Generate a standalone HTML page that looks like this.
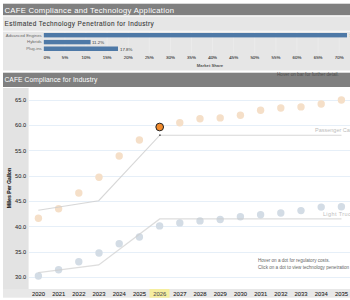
<!DOCTYPE html>
<html><head><meta charset="utf-8"><style>
html,body{margin:0;padding:0;width:350px;height:300px;overflow:hidden;background:#fff;}
svg{position:absolute;left:0;top:0;}
text{font-family:"Liberation Sans",sans-serif;}
</style></head><body>
<svg width="350" height="300" viewBox="0 0 350 300">
<rect x="3" y="3.7" width="347" height="11.5" fill="#808080"/>
<text x="4.5" y="12.9" font-size="7.7" letter-spacing="0.27" fill="#fff">CAFE Compliance and Technology Application</text>
<rect x="3" y="16.5" width="347" height="54" fill="#e6e6e6"/>
<rect x="3" y="30.7" width="347" height="1.1" fill="#fbfbfb"/>
<text x="4.6" y="25.9" font-size="6.4" letter-spacing="0.42" stroke="#3a3a3a" stroke-width="0.1" fill="#3a3a3a">Estimated Technology Penetration for  Industry</text>
<line x1="43.80" y1="32" x2="43.80" y2="53" stroke="#ececec" stroke-width="0.8"/><text x="47.00" y="58.5" font-size="4.4" fill="#333" stroke="#333" stroke-width="0.08" text-anchor="middle">0%</text><line x1="64.90" y1="32" x2="64.90" y2="53" stroke="#ececec" stroke-width="0.8"/><text x="64.90" y="58.5" font-size="4.4" fill="#333" stroke="#333" stroke-width="0.08" text-anchor="middle">5%</text><line x1="86.00" y1="32" x2="86.00" y2="53" stroke="#ececec" stroke-width="0.8"/><text x="86.00" y="58.5" font-size="4.4" fill="#333" stroke="#333" stroke-width="0.08" text-anchor="middle">10%</text><line x1="107.10" y1="32" x2="107.10" y2="53" stroke="#ececec" stroke-width="0.8"/><text x="107.10" y="58.5" font-size="4.4" fill="#333" stroke="#333" stroke-width="0.08" text-anchor="middle">15%</text><line x1="128.20" y1="32" x2="128.20" y2="53" stroke="#ececec" stroke-width="0.8"/><text x="128.20" y="58.5" font-size="4.4" fill="#333" stroke="#333" stroke-width="0.08" text-anchor="middle">20%</text><line x1="149.30" y1="32" x2="149.30" y2="53" stroke="#ececec" stroke-width="0.8"/><text x="149.30" y="58.5" font-size="4.4" fill="#333" stroke="#333" stroke-width="0.08" text-anchor="middle">25%</text><line x1="170.40" y1="32" x2="170.40" y2="53" stroke="#ececec" stroke-width="0.8"/><text x="170.40" y="58.5" font-size="4.4" fill="#333" stroke="#333" stroke-width="0.08" text-anchor="middle">30%</text><line x1="191.50" y1="32" x2="191.50" y2="53" stroke="#ececec" stroke-width="0.8"/><text x="191.50" y="58.5" font-size="4.4" fill="#333" stroke="#333" stroke-width="0.08" text-anchor="middle">35%</text><line x1="212.60" y1="32" x2="212.60" y2="53" stroke="#ececec" stroke-width="0.8"/><text x="212.60" y="58.5" font-size="4.4" fill="#333" stroke="#333" stroke-width="0.08" text-anchor="middle">40%</text><line x1="233.70" y1="32" x2="233.70" y2="53" stroke="#ececec" stroke-width="0.8"/><text x="233.70" y="58.5" font-size="4.4" fill="#333" stroke="#333" stroke-width="0.08" text-anchor="middle">45%</text><line x1="254.80" y1="32" x2="254.80" y2="53" stroke="#ececec" stroke-width="0.8"/><text x="254.80" y="58.5" font-size="4.4" fill="#333" stroke="#333" stroke-width="0.08" text-anchor="middle">50%</text><line x1="275.90" y1="32" x2="275.90" y2="53" stroke="#ececec" stroke-width="0.8"/><text x="275.90" y="58.5" font-size="4.4" fill="#333" stroke="#333" stroke-width="0.08" text-anchor="middle">55%</text><line x1="297.00" y1="32" x2="297.00" y2="53" stroke="#ececec" stroke-width="0.8"/><text x="297.00" y="58.5" font-size="4.4" fill="#333" stroke="#333" stroke-width="0.08" text-anchor="middle">60%</text><line x1="318.10" y1="32" x2="318.10" y2="53" stroke="#ececec" stroke-width="0.8"/><text x="318.10" y="58.5" font-size="4.4" fill="#333" stroke="#333" stroke-width="0.08" text-anchor="middle">65%</text><line x1="339.20" y1="32" x2="339.20" y2="53" stroke="#ececec" stroke-width="0.8"/><text x="339.20" y="58.5" font-size="4.4" fill="#333" stroke="#333" stroke-width="0.08" text-anchor="middle">70%</text>
<rect x="43.8" y="33.0" width="303.2" height="4.4" fill="#4e79a7"/>
<rect x="43.8" y="39.9" width="46.8" height="4.4" fill="#4e79a7"/>
<rect x="43.8" y="46.5" width="74.2" height="4.5" fill="#4e79a7"/>
<text x="349.2" y="37" font-size="4.3" fill="#666">73.2%</text>
<text x="41.7" y="36.9" font-size="4.3" fill="#6a6a6a" text-anchor="end">Advanced Engines</text>
<text x="41.7" y="43.4" font-size="4.3" fill="#6a6a6a" text-anchor="end">Hybrids</text>
<text x="41.7" y="49.7" font-size="4.3" fill="#6a6a6a" text-anchor="end">Plug-ins</text>
<text x="92" y="43.9" font-size="4.4" fill="#333">11.2%</text>
<text x="120" y="50.5" font-size="4.4" fill="#333">17.8%</text>
<text x="210" y="66.9" font-size="4.2" font-weight="bold" fill="#555" text-anchor="middle">Market Share</text>
<rect x="3" y="72.7" width="347" height="14.3" fill="#808080"/>
<text x="4.4" y="82.2" font-size="6.7" letter-spacing="0.1" fill="#fff">CAFE Compliance for Industry</text>
<text x="277" y="76.1" font-size="4.65" fill="#505050">Hover on bar for further detail.</text>
<rect x="3" y="88" width="25.6" height="201" fill="#e3e3e3"/>
<rect x="3" y="289" width="347" height="8.7" fill="#e8e8e8"/>
<rect x="149.5" y="289" width="20" height="8.7" fill="#f5eea0"/>
<rect x="28.6" y="277" width="322" height="1" fill="#e6eff8"/><rect x="28.6" y="252" width="322" height="1" fill="#e6eff8"/><rect x="28.6" y="226" width="322" height="1" fill="#e6eff8"/><rect x="28.6" y="201" width="322" height="1" fill="#e6eff8"/><rect x="28.6" y="176" width="322" height="1" fill="#e6eff8"/><rect x="28.6" y="150" width="322" height="1" fill="#e6eff8"/><rect x="28.6" y="125" width="322" height="1" fill="#e6eff8"/><rect x="28.6" y="100" width="322" height="1" fill="#e6eff8"/><circle cx="38.40" cy="218.3" r="3.7" fill="#f5dfc8"/><circle cx="58.60" cy="208.7" r="3.7" fill="#f5dfc8"/><circle cx="78.80" cy="193" r="3.7" fill="#f5dfc8"/><circle cx="99.00" cy="177.3" r="3.7" fill="#f5dfc8"/><circle cx="119.20" cy="156" r="3.7" fill="#f5dfc8"/><circle cx="139.40" cy="140" r="3.7" fill="#f5dfc8"/><circle cx="179.80" cy="122.7" r="3.7" fill="#f5dfc8"/><circle cx="200.00" cy="118.7" r="3.7" fill="#f5dfc8"/><circle cx="220.20" cy="117.9" r="3.7" fill="#f5dfc8"/><circle cx="240.40" cy="115.3" r="3.7" fill="#f5dfc8"/><circle cx="260.60" cy="110.3" r="3.7" fill="#f5dfc8"/><circle cx="280.80" cy="108" r="3.7" fill="#f5dfc8"/><circle cx="301.00" cy="106.9" r="3.7" fill="#f5dfc8"/><circle cx="321.20" cy="104" r="3.7" fill="#f5dfc8"/><circle cx="341.40" cy="100" r="3.7" fill="#f5dfc8"/><circle cx="38.40" cy="276" r="3.7" fill="#d3dce5"/><circle cx="58.60" cy="269.7" r="3.7" fill="#d3dce5"/><circle cx="78.80" cy="261.7" r="3.7" fill="#d3dce5"/><circle cx="99.00" cy="253" r="3.7" fill="#d3dce5"/><circle cx="119.20" cy="243.8" r="3.7" fill="#d3dce5"/><circle cx="139.40" cy="237" r="3.7" fill="#d3dce5"/><circle cx="159.60" cy="225.9" r="3.7" fill="#d3dce5"/><circle cx="179.80" cy="222.9" r="3.7" fill="#d3dce5"/><circle cx="200.00" cy="220.9" r="3.7" fill="#d3dce5"/><circle cx="220.20" cy="219.5" r="3.7" fill="#d3dce5"/><circle cx="240.40" cy="216.7" r="3.7" fill="#d3dce5"/><circle cx="260.60" cy="214.7" r="3.7" fill="#d3dce5"/><circle cx="280.80" cy="213" r="3.7" fill="#d3dce5"/><circle cx="301.00" cy="210.6" r="3.7" fill="#d3dce5"/><circle cx="321.20" cy="207.1" r="3.7" fill="#d3dce5"/><circle cx="341.40" cy="206.8" r="3.7" fill="#d3dce5"/><polyline points="38.3,210.3 98.7,200.7 159.8,135.2 341.5,135.2" fill="none" stroke="#cdcdcd" stroke-opacity="0.8" stroke-width="1.15"/><polyline points="38.3,272.6 98.7,264.9 159.7,218.9 341.5,218.9" fill="none" stroke="#cdcdcd" stroke-opacity="0.68" stroke-width="1.3"/><rect x="159.1" y="134.4" width="1.6" height="1.6" fill="#606060"/><circle cx="159.7" cy="127" r="3.85" fill="#f28b2c" stroke="#222" stroke-width="1"/><text x="315" y="132" font-size="5.5" fill="#bdbdbd">Passenger Car</text><text x="322.9" y="216" font-size="5.5" letter-spacing="0.4" fill="#bdbdbd">Light Truck</text><text x="258" y="261.8" font-size="4.6" fill="#666">Hover on a dot for regulatory costs.</text><text x="258" y="268.6" font-size="4.6" fill="#666">Click on a dot to view technology penetration</text>
<text x="26" y="279.35" font-size="5.6" fill="#2a2a2a" stroke="#2a2a2a" stroke-width="0.06" text-anchor="end">30.0</text><text x="26" y="254.00" font-size="5.6" fill="#2a2a2a" stroke="#2a2a2a" stroke-width="0.06" text-anchor="end">35.0</text><text x="26" y="228.65" font-size="5.6" fill="#2a2a2a" stroke="#2a2a2a" stroke-width="0.06" text-anchor="end">40.0</text><text x="26" y="203.30" font-size="5.6" fill="#2a2a2a" stroke="#2a2a2a" stroke-width="0.06" text-anchor="end">45.0</text><text x="26" y="177.95" font-size="5.6" fill="#2a2a2a" stroke="#2a2a2a" stroke-width="0.06" text-anchor="end">50.0</text><text x="26" y="152.60" font-size="5.6" fill="#2a2a2a" stroke="#2a2a2a" stroke-width="0.06" text-anchor="end">55.0</text><text x="26" y="127.25" font-size="5.6" fill="#2a2a2a" stroke="#2a2a2a" stroke-width="0.06" text-anchor="end">60.0</text><text x="26" y="101.90" font-size="5.6" fill="#2a2a2a" stroke="#2a2a2a" stroke-width="0.06" text-anchor="end">65.0</text>
<text x="38.50" y="295.7" font-size="5.9" fill="#222" stroke="#222" stroke-width="0.08" text-anchor="middle">2020</text><text x="58.70" y="295.7" font-size="5.9" fill="#222" stroke="#222" stroke-width="0.08" text-anchor="middle">2021</text><text x="78.90" y="295.7" font-size="5.9" fill="#222" stroke="#222" stroke-width="0.08" text-anchor="middle">2022</text><text x="99.10" y="295.7" font-size="5.9" fill="#222" stroke="#222" stroke-width="0.08" text-anchor="middle">2023</text><text x="119.30" y="295.7" font-size="5.9" fill="#222" stroke="#222" stroke-width="0.08" text-anchor="middle">2024</text><text x="139.50" y="295.7" font-size="5.9" fill="#222" stroke="#222" stroke-width="0.08" text-anchor="middle">2025</text><text x="159.70" y="295.7" font-size="5.9" fill="#5a5a5a" stroke="#5a5a5a" stroke-width="0.08" text-anchor="middle">2026</text><text x="179.90" y="295.7" font-size="5.9" fill="#222" stroke="#222" stroke-width="0.08" text-anchor="middle">2027</text><text x="200.10" y="295.7" font-size="5.9" fill="#222" stroke="#222" stroke-width="0.08" text-anchor="middle">2028</text><text x="220.30" y="295.7" font-size="5.9" fill="#222" stroke="#222" stroke-width="0.08" text-anchor="middle">2029</text><text x="240.50" y="295.7" font-size="5.9" fill="#222" stroke="#222" stroke-width="0.08" text-anchor="middle">2030</text><text x="260.70" y="295.7" font-size="5.9" fill="#222" stroke="#222" stroke-width="0.08" text-anchor="middle">2031</text><text x="280.90" y="295.7" font-size="5.9" fill="#222" stroke="#222" stroke-width="0.08" text-anchor="middle">2032</text><text x="301.10" y="295.7" font-size="5.9" fill="#222" stroke="#222" stroke-width="0.08" text-anchor="middle">2033</text><text x="321.30" y="295.7" font-size="5.9" fill="#222" stroke="#222" stroke-width="0.08" text-anchor="middle">2034</text><text x="341.50" y="295.7" font-size="5.9" fill="#222" stroke="#222" stroke-width="0.08" text-anchor="middle">2035</text>
<text transform="translate(11,188) rotate(-90)" font-size="5.2" font-weight="bold" fill="#222" stroke="#222" stroke-width="0.1" text-anchor="middle">Miles Per Gallon</text>
</svg>
</body></html>
